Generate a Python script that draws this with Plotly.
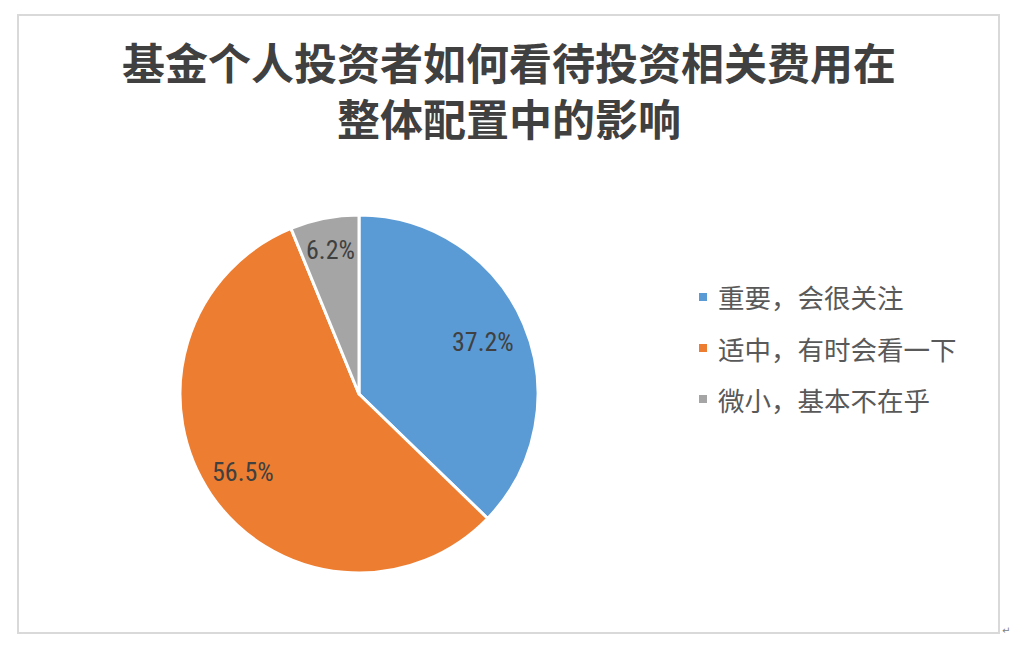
import numpy as np
import plotly.graph_objects as go

labels = ["重要，会很关注", "适中，有时会看一下", "微小，基本不在乎"]
values = [37.2, 56.5, 6.2]
pct_text = ["37.2%", "56.5%", "6.2%"]
colors = ["#5B9BD5", "#ED7D31", "#A5A5A5"]
title_text = "基金个人投资者如何看待投资相关费用在<br>整体配置中的影响"

W, H = 1010, 652
cx, cy, R = 359, 394, 179
label_r = [0.75, 0.78, 0.82]

fig = go.Figure()
fig.add_trace(go.Pie(
    labels=labels, values=values, sort=False, direction="clockwise", rotation=0,
    marker=dict(colors=colors, line=dict(color="white", width=3)),
    textinfo="none", hoverinfo="label+percent", showlegend=False,
    domain=dict(x=[(cx - R) / W, (cx + R) / W], y=[1 - (cy + R) / H, 1 - (cy - R) / H]),
))

annotations = []
# percent labels placed at slice mid-angles computed from the data
v = np.array(values, dtype=float)
cum = np.cumsum(v) / v.sum() * 360
start = np.concatenate([[0], cum[:-1]])
mid = np.deg2rad((start + cum) / 2)
for i, t in enumerate(pct_text):
    px = cx + label_r[i] * R * np.sin(mid[i])
    py = cy - label_r[i] * R * np.cos(mid[i])
    annotations.append(dict(
        x=px / W, y=1 - py / H, xref="paper", yref="paper", text=t, showarrow=False,
        xanchor="center", yanchor="middle",
        font=dict(family="Liberation Sans Narrow, Arial Narrow, Roboto Condensed, sans-serif", size=26, color="#404040"),
    ))

# legend
leg_x, leg_y0, leg_dy = 703, 297, 51
shapes = []
for i, lab in enumerate(labels):
    y = leg_y0 + i * leg_dy
    shapes.append(dict(type="rect", xref="paper", yref="paper",
                       x0=(leg_x - 4) / W, x1=(leg_x + 4) / W,
                       y0=1 - (y + 4) / H, y1=1 - (y - 4) / H,
                       fillcolor=colors[i], line=dict(width=0)))
    annotations.append(dict(
        x=716 / W, y=1 - y / H, xref="paper", yref="paper", text=lab, showarrow=False,
        xanchor="left", yanchor="middle",
        font=dict(family="Noto Sans CJK SC, sans-serif", size=26.5, color="#595959"),
    ))

# title
annotations.append(dict(
    x=509 / W, y=1 - 89 / H, xref="paper", yref="paper", text="<b>" + title_text + "</b>",
    showarrow=False, xanchor="center", yanchor="middle", align="center",
    font=dict(family="Noto Sans CJK SC, sans-serif", size=43, color="#404040"),
))

# paragraph mark
annotations.append(dict(
    x=1006 / W, y=1 - 630 / H, xref="paper", yref="paper", text="↵", showarrow=False,
    xanchor="center", yanchor="middle", font=dict(family="DejaVu Sans", size=10, color="#808080"),
))

# chart border
shapes.append(dict(type="rect", xref="paper", yref="paper",
                   x0=18 / W, x1=999 / W, y0=1 - 633 / H, y1=1 - 15 / H,
                   line=dict(color="#D9D9D9", width=2), fillcolor="rgba(0,0,0,0)"))

fig.update_layout(
    width=W, height=H, margin=dict(l=0, r=0, t=0, b=0),
    paper_bgcolor="white", plot_bgcolor="white",
    annotations=annotations, shapes=shapes, showlegend=False,
)
fig.write_html("out.html")
